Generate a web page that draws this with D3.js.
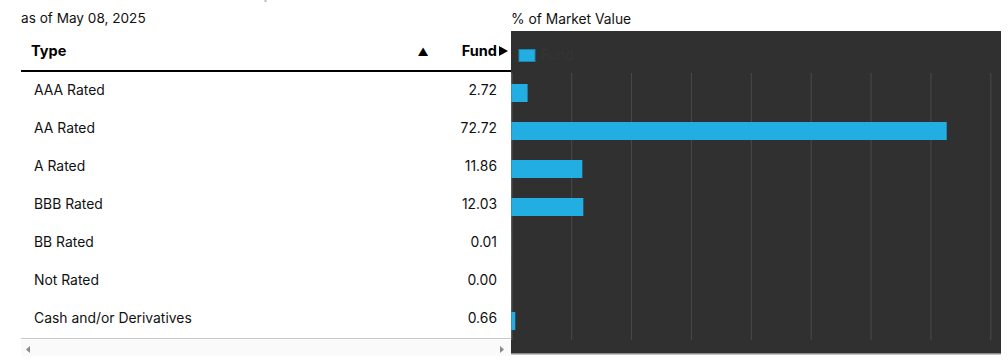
<!DOCTYPE html>
<html><head><meta charset="utf-8">
<script src="https://cdn.jsdelivr.net/npm/d3@7/dist/d3.min.js"></script>
<style>body{margin:0;background:#fff}svg{display:block;font-family:Inter,"Noto Sans",sans-serif}</style>
</head><body><svg id="c" width="1008" height="360"></svg>
<script>
const categories = ["AAA Rated","AA Rated","A Rated","BBB Rated","BB Rated","Not Rated","Cash and/or Derivatives"];
const fundValues = [2.72,72.72,11.86,12.03,0.01,0.00,0.66];
const valueLabels = ["2.72","72.72","11.86","12.03","0.01","0.00","0.66"];
const xTicks = [0,10,20,30,40,50,60,70,80];

const svg = d3.select("#c");
const x = d3.scaleLinear().domain([0,80]).range([511.3,990.3]);
const y = d3.scaleBand().domain(categories).range([74,340]).paddingInner(0.5263).paddingOuter(0.2632);

// titles
svg.append("text").attr("x",21).attr("y",23).attr("font-size",13.6).attr("fill","#111").text("as of May 08, 2025");
svg.append("text").attr("x",511).attr("y",24).attr("font-size",13.8).attr("fill","#111").text("% of Market Value");
svg.append("rect").attr("x",264.5).attr("y",0).attr("width",2).attr("height",2).attr("fill","#bbb");

// table header
svg.append("text").attr("x",31).attr("y",56).attr("font-size",14.5).attr("font-weight","bold").attr("fill","#000").text("Type");
svg.append("text").attr("x",423).attr("y",56).attr("font-size",11).attr("text-anchor","middle").attr("fill","#000").text("▲");
svg.append("text").attr("x",497).attr("y",56).attr("font-size",14.5).attr("font-weight","bold").attr("text-anchor","end").attr("fill","#000").text("Fund");
svg.append("path").attr("d","M499,46L508,51L499,56Z").attr("fill","#000");
svg.append("rect").attr("x",21).attr("y",70).attr("width",490).attr("height",2).attr("fill","#000");

// table rows
const rows = svg.append("g");
rows.selectAll("text.lab").data(categories).join("text").attr("class","lab")
  .attr("x",34).attr("y",d=>y(d)+y.bandwidth()/2+2).attr("font-size",13.9).attr("fill","#111").text(d=>d);
rows.selectAll("text.val").data(valueLabels).join("text").attr("class","val")
  .attr("x",497).attr("y",(d,i)=>y(categories[i])+y.bandwidth()/2+2).attr("font-size",13.9).attr("text-anchor","end").attr("fill","#111").text(d=>d);

// bottom line & scrollbar
svg.append("rect").attr("x",21).attr("y",338).attr("width",490).attr("height",1).attr("fill","#c8c8c8");
svg.append("rect").attr("x",21).attr("y",340).attr("width",490).attr("height",16).attr("fill","#fafafa");
svg.append("path").attr("d","M26,349.5L30,346L30,353Z").attr("fill","#8a8a8a");
svg.append("path").attr("d","M504,349.5L500,346L500,353Z").attr("fill","#8a8a8a");

// dark panel
svg.append("rect").attr("x",511).attr("y",31).attr("width",490).attr("height",323).attr("fill","#303030");
svg.append("rect").attr("x",511).attr("y",353).attr("width",490).attr("height",1.5).attr("fill","#8a8a8a");

// grid via axis
const gAxis = svg.append("g").attr("transform","translate(0,73)")
  .call(d3.axisBottom(x).tickValues(xTicks).tickSize(267).tickFormat(""));
gAxis.select(".domain").remove();
gAxis.selectAll(".tick line").attr("stroke",(d)=>d===0?"#6a6a6a":"#4a4a4a").attr("stroke-width",1);

// legend
svg.append("rect").attr("x",519).attr("y",49.5).attr("width",16).attr("height",12).attr("fill","#22aee2").attr("stroke","#1a86b0").attr("stroke-width",1);
svg.append("text").attr("x",541).attr("y",60).attr("font-size",13.9).attr("fill","#353535").text("Fund");

// bars
svg.append("g").selectAll("rect").data(fundValues).join("rect")
  .attr("x",x(0)).attr("y",(d,i)=>y(categories[i])).attr("height",y.bandwidth())
  .attr("width",d=>Math.max(0,x(d)-x(0))).attr("fill","#22aee2");
</script></body></html>
